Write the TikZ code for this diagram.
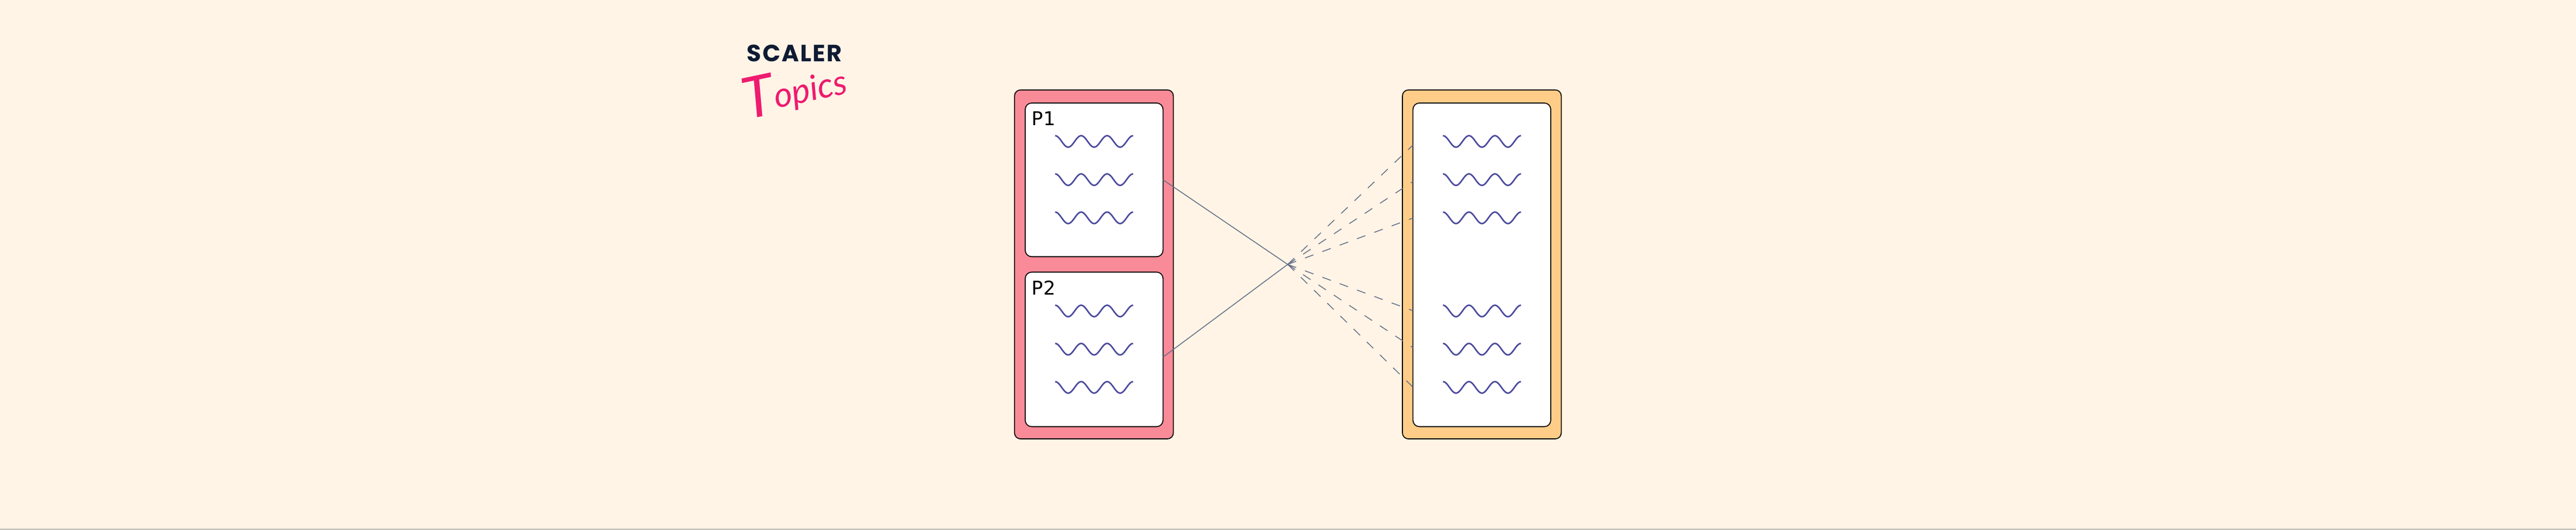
\documentclass[tikz,border=0pt]{standalone}
\usepackage{fontspec}
\setmainfont{DejaVu Sans}
\newfontfamily\scalerfont[LetterSpace=5]{Poppins}
\newfontfamily\topicsfont{Lato}
\definecolor{pagebg}{HTML}{FFF4E6}
\definecolor{procpink}{HTML}{F98B98}
\definecolor{memorange}{HTML}{FFCD88}
\definecolor{wavepurple}{HTML}{4B4A9E}
\definecolor{linkgray}{HTML}{667088}
\definecolor{scalernavy}{HTML}{0F1B33}
\definecolor{topicspink}{HTML}{EE1B6F}
\definecolor{edgegray}{HTML}{7A7468}
\tikzset{
    outerbox/.style={draw=black,line width=.022cm,rounded corners=.14cm,inner sep=0,outer sep=0,minimum width=3.7cm,minimum height=8.13cm},
    innerbox/.style={draw=black,line width=.022cm,rounded corners=.15cm,fill=white,inner sep=0,outer sep=0,minimum width=3.21cm},
    link/.style={draw=linkgray,line width=.02cm},
    dashlink/.style={link,dash pattern=on .21cm off .22cm},
    wavy/.pic={\draw [wavepurple,line width=.035cm] (0,0) cos (.1512,-.135) sin (.3025,-.27) cos (.4537,-.135) sin (.605,0) cos (.7562,-.135) sin (.9075,-.27) cos (1.0587,-.135) sin (1.21,0) cos (1.3612,-.135) sin (1.5125,-.27) cos (1.6637,-.135) sin (1.815,0);}
}
\begin{document}
\begin{tikzpicture}
    \useasboundingbox (0,0) rectangle (60,12.34);
    \fill [pagebg] (0,0) rectangle (60,12.34);
    \draw [edgegray,line width=.015cm] (0,.0075) -- (60,.0075);

    \node (logo) at (18.505,11.105) [text=scalernavy,font=\scalerfont\fontsize{15.6}{18}\selectfont\bfseries]{SCALER};
    \node (topics) at (18.5,10.26) [text=topicspink,rotate=12,font=\topicsfont\itshape]{\raisebox{-.12cm}{\fontsize{38}{42}\selectfont T}{\fontsize{23}{26}\selectfont opics}};

    \node (procs) at (25.48,6.18) [outerbox,fill=procpink]{};
    \node (p1) at (25.484,8.15) [innerbox,minimum height=3.58cm]{};
    \node (p2) at (25.484,4.2) [innerbox,minimum height=3.6cm]{};
    \node (mem) at (34.515,6.18) [outerbox,fill=memorange]{};
    \node (shared) at (34.515,6.17) [innerbox,minimum height=7.54cm]{};

    \node (p1label) at (p1.north west) [anchor=north west,xshift=.03cm,yshift=-.08cm,font=\fontsize{12.6}{15}\selectfont]{P1};
    \node (p2label) at (p2.north west) [anchor=north west,xshift=.03cm,yshift=-.08cm,font=\fontsize{12.6}{15}\selectfont]{P2};

    \pic at (24.577,9.18) {wavy};
    \pic at (24.577,8.29) {wavy};
    \pic at (24.577,7.40) {wavy};
    \pic at (24.577,5.23) {wavy};
    \pic at (24.577,4.34) {wavy};
    \pic at (24.577,3.45) {wavy};

    \pic at (33.61,9.18) {wavy};
    \pic at (33.61,8.29) {wavy};
    \pic at (33.61,7.40) {wavy};
    \pic at (33.61,5.23) {wavy};
    \pic at (33.61,4.34) {wavy};
    \pic at (33.61,3.45) {wavy};

    \coordinate (hub) at (29.993,6.18);
    \draw [link](p1.east) -- (hub);
    \draw [link](p2.east |- 0,4.02) -- (hub);

    \draw [dashlink](hub) -- (shared.west |- 0,8.96);
    \draw [dashlink](hub) -- (shared.west |- 0,8.11);
    \draw [dashlink](hub) -- (shared.west |- 0,7.26);
    \draw [dashlink](hub) -- (shared.west |- 0,5.10);
    \draw [dashlink](hub) -- (shared.west |- 0,4.24);
    \draw [dashlink](hub) -- (shared.west |- 0,3.32);
\end{tikzpicture}
\end{document}
